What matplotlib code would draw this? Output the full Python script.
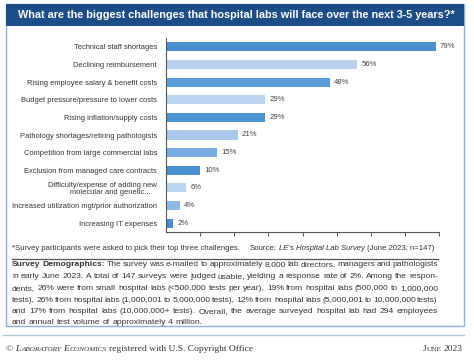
import matplotlib.pyplot as plt
from matplotlib.patches import Rectangle
from matplotlib.lines import Line2D

# ---- data ----
categories = [
    "Technical staff shortages",
    "Declining reimbursement",
    "Rising employee salary & benefit costs",
    "Budget pressure/pressure to lower costs",
    "Rising inflation/supply costs",
    "Pathology shortages/retiring pathologists",
    "Competition from large commercial labs",
    "Exclusion from managed care contracts",
    "Difficulty/expense of adding new\nmolecular and genetic...   ",
    "Increased utilization mgt/prior authorization",
    "Increasing IT expenses",
]
values = [79, 56, 48, 29, 29, 21, 15, 10, 6, 4, 2]
bar_colors = ["#4b91d2", "#b9d1ec", "#5a9ad6", "#bcd4ee", "#4f94d3", "#a9c8ea",
              "#78ade2", "#4a91d0", "#bcd4ee", "#8fb9e6", "#4a8ccc"]
xticks = [10, 20, 30, 40, 50, 60, 70, 80]

title = "What are the biggest challenges that hospital labs will face over the next 3-5 years?*"
para_lines = [
    "The survey was e-mailed to approximately 8,000 lab directors, managers and pathologists",
    "in early June 2023. A total of 147 surveys were judged usable, yielding a response rate of 2%. Among the respon-",
    "dents, 26% were from small hospital labs (<500,000 tests per year), 19% from hospital labs (500,000 to 1,000,000",
    "tests), 26% from hospital labs (1,000,001 to 5,000,000 tests), 12% from hospital labs (5,000,001 to 10,000,000 tests)",
    "and 17% from hospital labs (10,000,000+ tests). Overall, the average surveyed hospital lab had 294 employees",
    "and annual test volume of approximately 4 million.",
]

W, H = 474, 362
SANS = "Liberation Sans"
SERIF = "Liberation Serif"

fig = plt.figure(figsize=(W / 100, H / 100), dpi=100)
renderer = fig.canvas.get_renderer()


def fx(x):
    return x / W


def fy(y):
    return 1 - y / H


def text_width(s, **kw):
    t = fig.text(0, 0, s, **kw)
    w = t.get_window_extent(renderer).width
    t.remove()
    return w


def place_runs(runs, x, y, ha="left"):
    # runs: (text, gap before in px, text kwargs)
    widths = [text_width(s, **kw) for s, g, kw in runs]
    total = sum(widths) + sum(g for s, g, kw in runs)
    cur = x if ha == "left" else x - total
    for (s, g, kw), w in zip(runs, widths):
        cur += g
        fig.text(fx(cur), fy(y), s, ha="left", va="baseline", **kw)
        cur += w


def justify_line(words, x0, x1, y, justify=True):
    # words: list of (word, kwargs)
    widths = [text_width(s, **kw) for s, kw in words]
    if justify and len(words) > 1:
        gap = (x1 - x0 - sum(widths)) / (len(words) - 1)
    else:
        gap = text_width("a a", **words[0][1]) - text_width("aa", **words[0][1])
    cur = x0
    for (s, kw), w in zip(words, widths):
        fig.text(fx(cur), fy(y), s, ha="left", va="baseline", **kw)
        cur += w + gap


# ---- frame and title band ----
fig.patches.append(Rectangle((fx(6), fy(326)), fx(464) - fx(6), fy(4) - fy(326),
                             transform=fig.transFigure, fill=False,
                             edgecolor="#8db0d4", lw=1.0))
fig.patches.append(Rectangle((fx(6), fy(26)), fx(464) - fx(6), fy(4) - fy(26),
                             transform=fig.transFigure, facecolor="#1c4d87",
                             edgecolor="none"))
fig.text(fx(236), fy(15.5), title, ha="center", va="center", color="white",
         fontsize=7.8, fontweight="bold", family=SANS)

# ---- bar chart ----
ax = fig.add_axes([fx(166), fy(232), (439 - 166) / W, (232 - 38) / H])
ypos = list(range(len(categories)))
ax.barh(ypos, values, height=0.52, color=bar_colors)
for y, v in zip(ypos, values):
    ax.text(v + 1.3, y, f"{v}%", va="center", ha="left", fontsize=5.6,
            color="#444444", family=SANS)
ax.set_xlim(0, 80)
ax.set_ylim(10.5, -0.5)
ax.set_yticks(ypos)
ax.set_yticklabels(categories, fontsize=5.4, color="#333333", family=SANS,
                   multialignment="right", linespacing=0.95)
ax.set_xticks(xticks)
ax.set_xticklabels([])
ax.tick_params(axis="y", length=0, pad=6.5)
ax.tick_params(axis="x", direction="out", length=3, width=0.7, color="#555555")
for side in ["top", "right"]:
    ax.spines[side].set_visible(False)
for side in ["left", "bottom"]:
    ax.spines[side].set_color("#555555")
    ax.spines[side].set_linewidth(0.8)

# ---- footnote ----
small = dict(fontsize=5.6, color="#333333", family=SANS)
place_runs([
    ("*Survey participants were asked to pick their top three challenges.", 0, small),
    ("Source:", 10, small),
    ("LE\u2019s Hospital Lab Survey", 2.4, dict(small, style="italic")),
    ("(June 2023; n=147)", 2.4, small),
], 12, 250)

fig.lines.append(Line2D([fx(12), fx(438)], [fy(259), fy(259)],
                        transform=fig.transFigure, color="#555555", lw=0.9))

# ---- survey demographics paragraph ----
body = dict(fontsize=6.1, color="#333333", family=SANS)
bold = dict(body, fontweight="bold")
line_y = [266, 278, 290, 301.5, 313, 324.5]
for i, (line, y) in enumerate(zip(para_lines, line_y)):
    words = [(w, body) for w in line.split()]
    if i == 0:
        words = [("Survey", bold), ("Demographics:", bold)] + words
    justify_line(words, 12, 438, y, justify=(i < len(para_lines) - 1))

# ---- bottom rule and footer ----
fig.lines.append(Line2D([fx(3), fx(464)], [fy(334.5), fy(334.5)],
                        transform=fig.transFigure, color="#b3c6d8", lw=1.0))
ser = dict(fontsize=6.8, color="#333333", family=SERIF)
ser_it = dict(ser, style="italic")
ser_it_sc = dict(ser_it, fontsize=5.2)
ser_sc = dict(ser, fontsize=5.2)
place_runs([
    ("\u00a9", 0, ser),
    ("L", 2.3, ser_it),
    ("ABORATORY", 0.3, ser_it_sc),
    ("E", 2.3, ser_it),
    ("CONOMICS", 0.3, ser_it_sc),
    ("registered with U.S. Copyright Office", 2.3, ser),
], 6, 351)
place_runs([
    ("J", 0, ser),
    ("UNE", 0.3, ser_sc),
    ("2023", 2.3, ser),
], 463, 351, ha="right")

fig.savefig("out.png", dpi=100)
